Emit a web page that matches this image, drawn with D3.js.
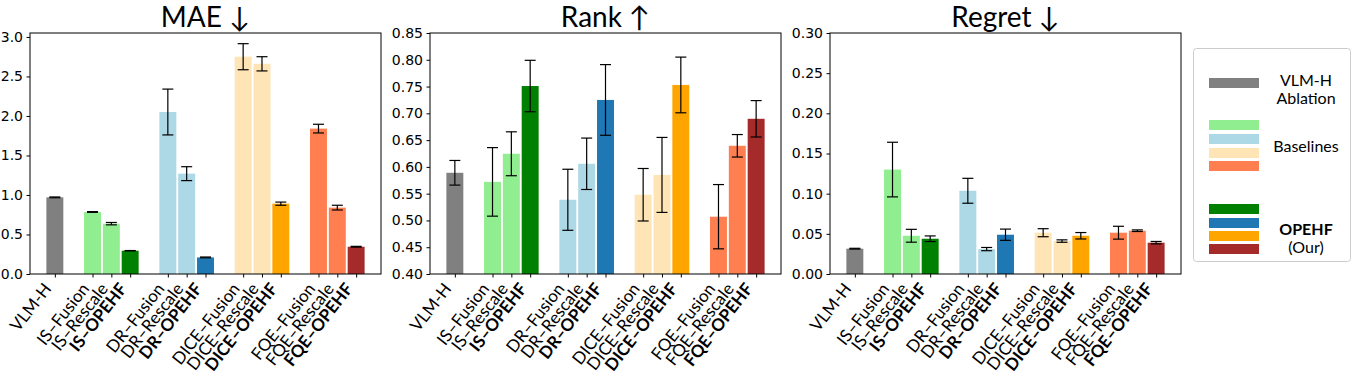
<!DOCTYPE html>
<html>
<head>
<meta charset="utf-8">
<script src="https://cdn.jsdelivr.net/npm/d3@7"></script>
<style>
  body { margin: 0; background: #fff; }
  svg { display: block; }
</style>
</head>
<body>
<div id="chart"></div>
<script>
// method labels (x axis) and bar colours
const methods = ["VLM-H",
  "IS\u2013Fusion", "IS\u2013Rescale", "IS\u2013OPEHF",
  "DR\u2013Fusion", "DR\u2013Rescale", "DR\u2013OPEHF",
  "DICE\u2013Fusion", "DICE\u2013Rescale", "DICE\u2013OPEHF",
  "FQE\u2013Fusion", "FQE\u2013Rescale", "FQE\u2013OPEHF"];
const groups = [0, 1, 1, 1, 2, 2, 2, 3, 3, 3, 4, 4, 4];
const colors = ["#808080",
  "#90ee90", "#90ee90", "#008000",
  "#add8e6", "#add8e6", "#1f77b4",
  "#ffe4b5", "#ffe4b5", "#ffa500",
  "#ff7f50", "#ff7f50", "#a52a2a"];

// MAE
const maeMean = [0.97, 0.785, 0.637, 0.295, 2.05, 1.27, 0.21, 2.75, 2.66, 0.89, 1.84, 0.84, 0.345];
const maeErr  = [0.005, 0.005, 0.015, 0.002, 0.29, 0.088, 0.005, 0.165, 0.09, 0.02, 0.055, 0.03, 0.005];
// Rank
const rankMean = [0.589, 0.572, 0.6245, 0.751, 0.5386, 0.6058, 0.725, 0.548, 0.585, 0.753, 0.507, 0.6394, 0.6898];
const rankErr  = [0.023, 0.064, 0.041, 0.048, 0.057, 0.048, 0.066, 0.049, 0.07, 0.052, 0.06, 0.021, 0.034];
// Regret
const regretMean = [0.0315, 0.130, 0.0476, 0.0439, 0.1036, 0.031, 0.0489, 0.0514, 0.041, 0.0476, 0.0514, 0.0539, 0.039];
const regretErr  = [0.0005, 0.034, 0.008, 0.0035, 0.0155, 0.002, 0.007, 0.005, 0.0015, 0.004, 0.008, 0.001, 0.0015];

const maeTicks = [0, 0.5, 1.0, 1.5, 2.0, 2.5, 3.0];
const rankTicks = [0.40, 0.45, 0.50, 0.55, 0.60, 0.65, 0.70, 0.75, 0.80, 0.85];
const regretTicks = [0, 0.05, 0.10, 0.15, 0.20, 0.25, 0.30];

const panels = [
  { title: "MAE \u2193", mean: maeMean, err: maeErr, domain: [0, 3.05], ticks: maeTicks, fmt: d3.format(".1f"), left: 30, right: 381 },
  { title: "Rank \u2191", mean: rankMean, err: rankErr, domain: [0.40, 0.85], ticks: rankTicks, fmt: d3.format(".2f"), left: 430, right: 781 },
  { title: "Regret \u2193", mean: regretMean, err: regretErr, domain: [0, 0.30], ticks: regretTicks, fmt: d3.format(".2f"), left: 830, right: 1181 }
];

const W = 1353, H = 380;
const plotTop = 33, plotBottom = 274;
const titleFont = "Lato, 'DejaVu Sans', sans-serif";
const labelFont = "Lato, 'DejaVu Sans', sans-serif";

// slot position of each bar: one empty slot between groups
const pos = methods.map((m, i) => {
  const g = groups[i];
  const k = groups.slice(0, i).filter(v => v === g).length;
  return g === 0 ? 0 : (g - 1) * 4 + 2 + k;
});

const svg = d3.select("#chart").append("svg")
  .attr("width", W).attr("height", H);

panels.forEach(p => {
  const x = d3.scaleLinear().domain([-1.32, 17.32]).range([p.left, p.right]);
  const y = d3.scaleLinear().domain(p.domain).range([plotBottom, plotTop]);
  const bw = x(0.45) - x(0);
  const g = svg.append("g");

  // bars
  g.selectAll("rect.bar")
    .data(methods)
    .enter().append("rect")
    .attr("class", "bar")
    .attr("x", (d, i) => x(pos[i]) - bw)
    .attr("width", bw * 2)
    .attr("y", (d, i) => y(p.mean[i]))
    .attr("height", (d, i) => y(p.domain[0]) - y(p.mean[i]))
    .attr("fill", (d, i) => colors[i]);

  // error bars
  const eb = g.selectAll("g.err")
    .data(methods)
    .enter().append("g")
    .attr("class", "err")
    .attr("stroke", "#000")
    .attr("stroke-width", 1.2);
  eb.append("line")
    .attr("x1", (d, i) => x(pos[i])).attr("x2", (d, i) => x(pos[i]))
    .attr("y1", (d, i) => y(p.mean[i] - p.err[i]))
    .attr("y2", (d, i) => y(p.mean[i] + p.err[i]));
  [-1, 1].forEach(s => {
    eb.append("line")
      .attr("x1", (d, i) => x(pos[i]) - 5.5).attr("x2", (d, i) => x(pos[i]) + 5.5)
      .attr("y1", (d, i) => y(p.mean[i] + s * p.err[i]))
      .attr("y2", (d, i) => y(p.mean[i] + s * p.err[i]));
  });

  // y axis
  g.append("g")
    .attr("transform", `translate(${p.left},0)`)
    .call(d3.axisLeft(y).tickValues(p.ticks).tickFormat(p.fmt).tickSize(3.5).tickPadding(3.5))
    .call(a => a.select(".domain").remove())
    .call(a => a.selectAll("text")
      .style("font-family", "'DejaVu Sans', sans-serif")
      .style("font-size", "14px").attr("fill", "#000"));

  // x axis
  g.append("g")
    .attr("transform", `translate(0,${plotBottom})`)
    .call(d3.axisBottom(x).tickValues(pos).tickFormat((d, i) => methods[i]).tickSize(3.5))
    .call(a => a.select(".domain").remove())
    .call(a => a.selectAll("text")
      .attr("x", 0).attr("y", 0).attr("dy", 0)
      .attr("transform", "translate(-3,15) rotate(-52)")
      .attr("text-anchor", "end")
      .style("font-family", labelFont)
      .style("font-size", "17px")
      .style("font-weight", (d, i) => i % 3 === 0 && i > 0 ? "bold" : "normal")
      .attr("fill", "#000"));

  // frame
  g.append("rect")
    .attr("x", p.left).attr("y", plotTop)
    .attr("width", p.right - p.left).attr("height", plotBottom - plotTop)
    .attr("fill", "none").attr("stroke", "#000").attr("stroke-width", 1);

  // title
  svg.append("text")
    .attr("x", (p.left + p.right) / 2).attr("y", 27)
    .attr("text-anchor", "middle")
    .style("font-family", titleFont)
    .style("font-size", "28px")
    .text(p.title);
});

// legend
const legend = svg.append("g");
legend.append("rect")
  .attr("x", 1193.5).attr("y", 48.5).attr("width", 157).attr("height", 213)
  .attr("rx", 3).attr("fill", "#fff").attr("stroke", "#cccccc");

const legendPatches = [
  { c: "#808080", y: 78 },
  { c: "#90ee90", y: 120 }, { c: "#add8e6", y: 134 }, { c: "#ffe4b5", y: 148 }, { c: "#ff7f50", y: 161 },
  { c: "#008000", y: 204 }, { c: "#1f77b4", y: 218 }, { c: "#ffa500", y: 231 }, { c: "#a52a2a", y: 244 }
];
legend.selectAll("rect.patch")
  .data(legendPatches)
  .enter().append("rect")
  .attr("class", "patch")
  .attr("x", 1209).attr("width", 50)
  .attr("y", d => d.y).attr("height", 10)
  .attr("fill", d => d.c);

const legendTexts = [
  { t: "VLM-H", y: 86, w: "normal" },
  { t: "Ablation", y: 104, w: "normal" },
  { t: "Baselines", y: 152, w: "normal" },
  { t: "OPEHF", y: 235, w: "bold" },
  { t: "(Our)", y: 253, w: "normal" }
];
legend.selectAll("text")
  .data(legendTexts)
  .enter().append("text")
  .attr("x", 1306).attr("y", d => d.y)
  .attr("text-anchor", "middle")
  .style("font-family", labelFont)
  .style("font-size", "16px")
  .style("font-weight", d => d.w)
  .text(d => d.t);
</script>
</body>
</html>
